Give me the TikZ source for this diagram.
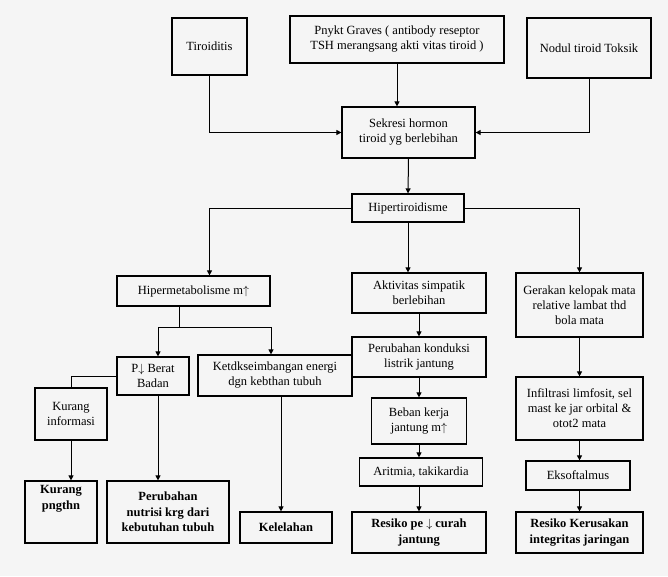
\documentclass[tikz,border=0pt]{standalone}
\usepackage{fontspec}
\setmainfont{Liberation Serif}
\usetikzlibrary{arrows.meta}
\begin{document}
\begin{tikzpicture}[x=1pt,y=-1pt,
  box/.style={draw=black,line width=1.2pt,align=center,inner sep=1pt,font=\fontsize{12.5}{15}\selectfont},
  bbox/.style={box,font=\bfseries\fontsize{12.5}{15.5}\selectfont},
  arr/.style={line width=1pt,-{Triangle[length=5pt,width=5pt]}},
  ln/.style={line width=1pt}]
\fill[black!4] (0,0) rectangle (668,576);
\useasboundingbox (0,0) rectangle (668,576);
\newcommand{\bx}[7]{\node[#1,minimum width=#5,minimum height=#6] (#2) at (#3,#4) {#7};}
\bx{box}{tir}{209.5}{46.5}{75pt}{57pt}{Tiroiditis}
\bx{box}{grv}{397}{39.5}{214pt}{47pt}{Pnykt Graves ( antibody reseptor\\TSH merangsang akti vitas tiroid )}
\bx{box}{nod}{589}{48}{124pt}{60pt}{Nodul tiroid Toksik}
\bx{box}{sek}{408.5}{132.5}{133pt}{51pt}{Sekresi hormon\\tiroid yg berlebihan}
\bx{box}{hip}{408}{208}{112pt}{28pt}{Hipertiroidisme}
\bx{box}{hm}{193.5}{291}{153pt}{30pt}{Hipermetabolisme m$\uparrow$}
\bx{box}{akt}{419}{293}{134pt}{40pt}{Aktivitas simpatik\\berlebihan}
\bx{box}{ger}{579.5}{305}{127pt}{64pt}{Gerakan kelopak mata\\relative lambat thd\\bola mata}
\bx{box}{pb}{153}{376}{72pt}{38pt}{P$\downarrow$ Berat\\Badan}
\bx{box}{ket}{275}{375.5}{154pt}{41pt}{Ketdkseimbangan energi\\dgn kebthan tubuh}
\bx{box}{ki}{71}{414}{72pt}{52pt}{Kurang\\informasi}
\bx{bbox}{kp}{61}{512}{72pt}{62pt}{Kurang\\pngthn\\[14pt]}
\bx{bbox}{pn}{168}{512}{122pt}{62pt}{Perubahan\\nutrisi krg dari\\kebutuhan tubuh}
\bx{bbox}{kel}{286}{527.5}{92pt}{31pt}{Kelelahan}
\bx{box}{kon}{419}{357}{134pt}{40pt}{Perubahan konduksi\\listrik jantung}
\bx{box}{beb}{419}{421}{95pt}{46pt}{Beban kerja\\jantung m$\uparrow$}
\bx{box}{ari}{421}{472}{123pt}{28pt}{Aritmia, takikardia}
\bx{bbox}{res}{419}{532.5}{134pt}{41pt}{Resiko pe $\downarrow$ curah\\jantung}
\bx{box}{inf}{579.5}{408.5}{127pt}{63pt}{Infiltrasi limfosit, sel\\mast ke jar orbital \&\\otot2 mata}
\bx{box}{eks}{578}{475.5}{104pt}{29pt}{Eksoftalmus}
\bx{bbox}{rk}{579.5}{532.5}{127pt}{41pt}{Resiko Kerusakan\\integritas jaringan}
% top
\draw[arr] (tir.south) |- (sek.west);
\draw[arr] (grv.south) -- (grv.south |- sek.north);
\draw[arr] (nod.south) |- (sek.east);
\draw[arr] (sek.south) -- (hip.north);
\draw[arr] (hip.west) -| (tir.south |- hm.north);
\draw[arr] (hip.east) -| (ger.north);
\draw[arr] (hip.south) -- (hip.south |- akt.north);
% left
\coordinate (hj) at (179,327);
\draw[ln] (hm.south -| hj) -- (hj);
\draw[arr] (158,327) -- (158,327 |- pb.north);
\draw[arr] (hj) -- (271,327) -- (271,327 |- ket.north);
\draw[ln] (158,327) -- (hj);
\draw[ln] (pb.west) -| (ki.north);
\draw[arr] (ki.south) -- (ki.south |- kp.north);
\draw[arr] (158,0 |- pb.south) -- (158,0 |- pn.north);
\draw[arr] (281,0 |- ket.south) -- (281,0 |- kel.north);
% middle
\draw[arr] (akt.south) -- (kon.north);
\draw[arr] (kon.south) -- (beb.north);
\draw[arr] (beb.south) -- (beb.south |- ari.north);
\draw[arr] (beb.south |- ari.south) -- (res.north);
% right
\draw[arr] (ger.south) -- (ger.south |- inf.north);
\draw[arr] (inf.south) -- (inf.south |- eks.north);
\draw[arr] (inf.south |- eks.south) -- (rk.north);
\end{tikzpicture}
\end{document}
